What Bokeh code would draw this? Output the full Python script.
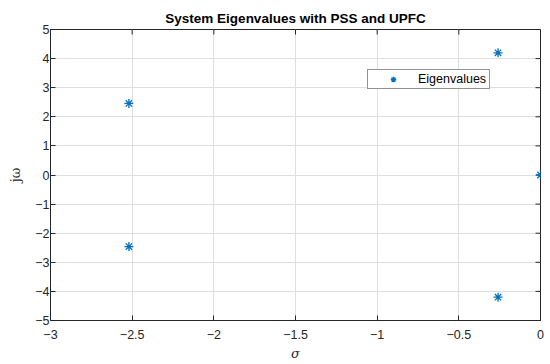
import math
from bokeh.plotting import figure
from bokeh.models import LinearAxis, Range1d, FixedTicker, Legend, LegendItem, Grid
from bokeh.embed import file_html
from bokeh.resources import INLINE

# Eigenvalues (real part sigma, imaginary part j*omega)
sigma = [-2.52, -2.52, -0.26, -0.26, 0.0]
omega = [2.46, -2.46, 4.20, -4.20, 0.0]
x_ticks = [-3, -2.5, -2, -1.5, -1, -0.5, 0]
y_ticks = [-5, -4, -3, -2, -1, 0, 1, 2, 3, 4, 5]
x_min, x_max = -3, 0
y_min, y_max = -5, 5

FONT = "Liberation Sans"
AX = "#262626"

p = figure(width=550, height=364, output_backend="svg", toolbar_location=None,
           x_range=Range1d(x_min, x_max), y_range=Range1d(y_min, y_max),
           x_axis_type=None, y_axis_type=None,
           min_border_left=50, min_border_right=10, min_border_top=29, min_border_bottom=44)
p.background_fill_color = "white"
p.border_fill_color = "white"
p.outline_line_color = AX
p.outline_line_width = 1

def style(ax):
    ax.major_tick_in = 5
    ax.major_tick_out = 0
    ax.minor_tick_line_color = None
    ax.axis_line_color = AX
    ax.major_tick_line_color = AX
    ax.major_label_text_font = FONT
    ax.major_label_text_color = AX
    ax.major_label_text_font_size = "12.5px"

xb = LinearAxis(ticker=FixedTicker(ticks=x_ticks), axis_label="σ")
style(xb)
xb.major_label_standoff = 9
xb.axis_label_text_font = "DejaVu Serif"
xb.axis_label_text_font_style = "italic"
xb.axis_label_text_font_size = "13px"
xb.axis_label_text_color = AX
xb.axis_label_standoff = 4
p.add_layout(xb, "below")

yl = LinearAxis(ticker=FixedTicker(ticks=y_ticks), axis_label="jω")
style(yl)
yl.major_label_standoff = 1
yl.axis_label_text_font = "DejaVu Serif"
yl.axis_label_text_font_style = "normal"
yl.axis_label_text_font_size = "13px"
yl.axis_label_text_color = AX
yl.axis_label_standoff = 9
p.add_layout(yl, "left")

for dim, tk in ((0, x_ticks), (1, y_ticks)):
    p.add_layout(Grid(dimension=dim, ticker=FixedTicker(ticks=tk),
                      grid_line_color="#dfdfdf", grid_line_width=1))

# inward ticks on the top and right edges (box axes)
p.scatter(x_ticks, [y_max] * len(x_ticks), marker="dash", angle=math.pi / 2,
          size=10, line_color=AX, line_width=1)
p.scatter([x_max] * len(y_ticks), y_ticks, marker="dash",
          size=10, line_color=AX, line_width=1)

p.title.text = "System Eigenvalues with PSS and UPFC"
p.title.text_font = FONT
p.title.text_font_style = "bold"
p.title.text_font_size = "13.5px"
p.title.align = "center"
p.title.text_color = "black"
p.title.standoff = 8
p.title.offset = 0

r = p.scatter(sigma, omega, marker="asterisk", size=9, line_color="#0072BD", line_width=1.3)

leg = Legend(items=[LegendItem(label="Eigenvalues", renderers=[r])],
             location=(317, 231), padding=2, spacing=0, margin=0,
             glyph_width=46, glyph_height=14, label_standoff=2, label_width=69,
             label_text_font=FONT, label_text_font_size="12.5px", label_text_color="black",
             border_line_color=AX, border_line_width=1, background_fill_color="white")
p.add_layout(leg, "center")

open("out.html", "w").write(file_html(p, INLINE))
